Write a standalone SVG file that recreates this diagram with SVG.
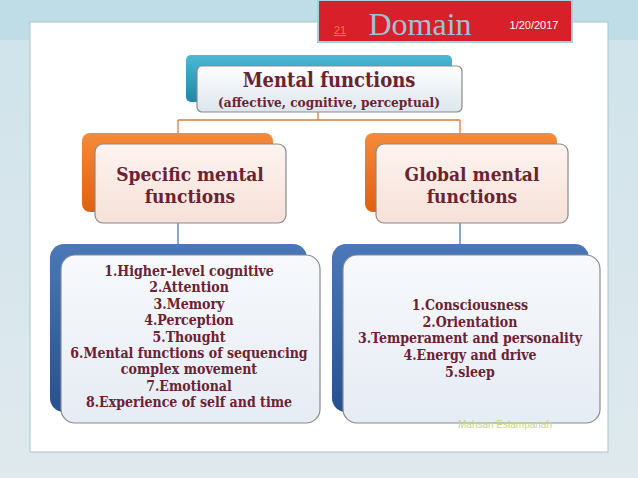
<svg xmlns="http://www.w3.org/2000/svg" width="638" height="478" viewBox="0 0 638 478">
<defs>
<linearGradient id="bg" x1="0" y1="0" x2="0" y2="1"><stop offset="0" stop-color="#cfe3ea"/><stop offset="1" stop-color="#dfe9ee"/></linearGradient>
<linearGradient id="fr" x1="0" y1="0" x2="0" y2="1"><stop offset="0" stop-color="#ffffff"/><stop offset="1" stop-color="#dbe6ec"/></linearGradient>
<linearGradient id="fo" x1="0" y1="0" x2="0" y2="1"><stop offset="0" stop-color="#fdf3ef"/><stop offset="1" stop-color="#f6e1d8"/></linearGradient>
<linearGradient id="fb" x1="0" y1="0" x2="0" y2="1"><stop offset="0" stop-color="#f7f9fc"/><stop offset="1" stop-color="#e6ecf4"/></linearGradient>
<linearGradient id="teal" x1="0" y1="0" x2="0" y2="1"><stop offset="0" stop-color="#4bb8d6"/><stop offset="1" stop-color="#1f86a8"/></linearGradient>
<linearGradient id="org" x1="0" y1="0" x2="0" y2="1"><stop offset="0" stop-color="#f58a3a"/><stop offset="1" stop-color="#e0600f"/></linearGradient>
<linearGradient id="blu" x1="0" y1="0" x2="0" y2="1"><stop offset="0" stop-color="#4a78b8"/><stop offset="1" stop-color="#27508f"/></linearGradient>
</defs>
<style>
.t{font-weight:bold;fill:#6b2232;text-anchor:middle}
.fs{stroke:#8a8a8a;stroke-width:1.2}
</style>
<rect width="638" height="478" fill="url(#bg)"/>
<rect x="0" y="0" width="638" height="40" fill="#bfdde7"/>
<rect x="30" y="22" width="578" height="430" fill="#ffffff" stroke="#a9c3cf"/>
<g id="title">
<rect x="318" y="0" width="254" height="42" fill="#d81f2a" stroke="#a8cfdc" stroke-width="2"/>
<text x="334" y="34" font-family="Liberation Sans,sans-serif" font-size="11" fill="#f07a3a" text-decoration="underline">21</text>
<text x="420" y="35" font-family="Liberation Serif,serif" font-size="32" fill="#9cc3d3" text-anchor="middle">Domain</text>
<text x="534" y="29" font-family="Liberation Sans,sans-serif" font-size="11" fill="#ffffff" text-anchor="middle">1/20/2017</text>
</g>
<g id="connectors" fill="none">
<path d="M318 112V120M178 120H460M178 120V134M460 120V134" stroke="#e07a3a" stroke-width="1.3"/>
<path d="M178 223V246M460 223V246" stroke="#4a78b8" stroke-width="1.3"/>
</g>
<g font-family="DejaVu Serif Condensed, DejaVu Serif, serif">
<g id="n-root">
<rect x="186" y="55" width="266" height="47" rx="5" fill="url(#teal)"/>
<rect x="197" y="66" width="265" height="46" rx="5" fill="url(#fr)" class="fs"/>
<text x="329" y="87" class="t" font-size="20">Mental functions</text>
<text x="329" y="107" class="t" font-size="13.5">(affective, cognitive, perceptual)</text>
</g>
<g id="n-specific">
<rect x="82" y="133" width="191" height="79" rx="8" fill="url(#org)"/>
<rect x="95" y="144" width="191" height="79" rx="8" fill="url(#fo)" class="fs"/>
<text x="190" y="181" class="t" font-size="19">Specific mental</text>
<text x="190" y="203" class="t" font-size="19">functions</text>
</g>
<g id="n-global">
<rect x="365" y="133" width="192" height="79" rx="8" fill="url(#org)"/>
<rect x="376" y="144" width="192" height="79" rx="8" fill="url(#fo)" class="fs"/>
<text x="472" y="181" class="t" font-size="19">Global mental</text>
<text x="472" y="203" class="t" font-size="19">functions</text>
</g>
<g id="n-speclist">
<rect x="50" y="244" width="257" height="168" rx="14" fill="url(#blu)"/>
<rect x="61" y="255" width="259" height="168" rx="14" fill="url(#fb)" class="fs"/>
<g class="t" font-size="14">
<text x="189" y="276">1.Higher-level cognitive</text>
<text x="189" y="292">2.Attention</text>
<text x="189" y="309">3.Memory</text>
<text x="189" y="325">4.Perception</text>
<text x="189" y="342">5.Thought</text>
<text x="189" y="358">6.Mental functions of sequencing</text>
<text x="189" y="374">complex movement</text>
<text x="189" y="391">7.Emotional</text>
<text x="189" y="407">8.Experience of self and time</text>
</g>
</g>
<g id="n-globlist">
<rect x="332" y="244" width="257" height="168" rx="14" fill="url(#blu)"/>
<rect x="343" y="255" width="257" height="168" rx="14" fill="url(#fb)" class="fs"/>
<g class="t" font-size="14">
<text x="470" y="310">1.Consciousness</text>
<text x="470" y="327">2.Orientation</text>
<text x="470" y="343">3.Temperament and personality</text>
<text x="470" y="360">4.Energy and drive</text>
<text x="470" y="377">5.sleep</text>
</g>
</g>
</g>
<text x="505" y="428" font-family="Liberation Sans,sans-serif" font-size="10" fill="#c8d48a" text-anchor="middle">Mahsan Eslampanah</text>
</svg>
